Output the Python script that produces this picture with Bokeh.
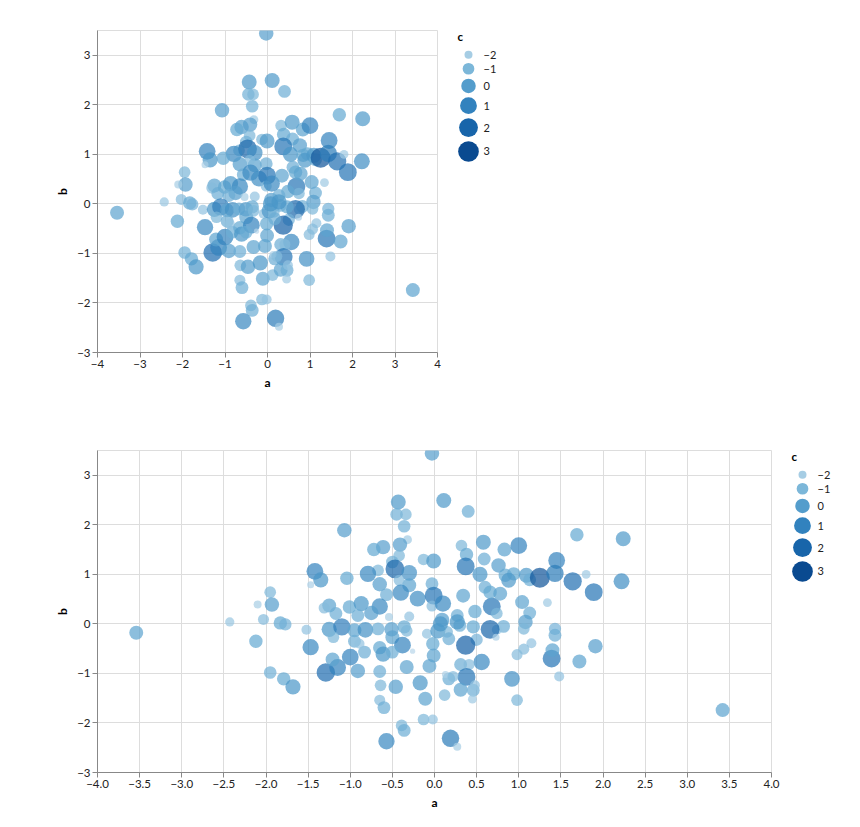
import numpy as np
from bokeh.plotting import figure
from bokeh.layouts import column, row
from bokeh.models import ColumnDataSource, Range1d, FixedTicker, LinearColorMapper
from bokeh.transform import transform
from bokeh.core.properties import value
from bokeh.embed import file_html
from bokeh.resources import INLINE

# ---------------- data ----------------
a = [-0.03, -0.43, -0.45, -0.34, -0.36, -1.07, -0.32, -0.41, -0.61, -0.72,
     -0.42, -0.13, -0.01, -0.50, -0.67, -0.47, -0.30, -0.79, -1.42, -1.35,
     -1.04, -1.47, -0.65, -0.30, -0.42, -0.03, -0.57, -0.40, -0.20, -0.01,
     -1.95, -1.93, -2.10, -1.25, -1.31, -1.17, -1.01, -0.87, -0.65, -0.75,
     -0.30, -0.03, -2.43, -2.03, -1.83, -1.77, -0.91, -0.54, -3.54, -1.52,
     -2.12, -1.47, -1.95, -1.79, -1.68, -1.29, -1.15, -1.21, -1.00, -0.91,
     -0.83, -1.25, -1.10, -1.20, -0.95, -0.82, -0.95, -0.89, -0.67, -0.51,
     -0.50, -0.36, -0.33, -0.65, -0.61, -0.38, -0.50, -0.26, -0.09, -0.02,
     -0.01, 0.04, -0.06, -0.33, -0.65, -0.64, -0.46, -0.17, -0.11, -0.65,
     -0.60, -0.13, -0.02, -0.39, -0.36, -0.57, 3.42, 0.19, 0.27, 0.12,
     0.98, 0.92, 1.48, 1.39, 1.40, 1.72, 1.91, 1.43, 1.43, 1.15,
     1.06, 0.98, 1.13, 1.08, 1.06, 1.04, 0.82, 0.74, 0.66, 0.73,
     0.68, 0.74, 0.48, 0.46, 0.50, 0.37, 0.56, 0.31, 0.41, 0.38,
     0.17, 0.13, 0.22, 0.31, 0.46, 0.45, 0.48, 0.15, 0.17, 0.09,
     0.27, 0.30, 0.27, 0.10, 0.34, 1.34, 0.11, 0.40, 1.69, 2.24,
     0.32, 0.58, 0.83, 1.00, 0.38, 0.59, 0.37, 0.76, 0.54, 0.84,
     0.94, 0.88, 1.09, 1.13, 1.25, 1.45, 1.43, 1.64, 1.80, 2.22,
     1.89, 0.60, 0.66, 0.78, 0.07]
b = [3.44, 2.46, 2.21, 2.21, 1.97, 1.89, 1.70, 1.60, 1.55, 1.50,
     1.38, 1.30, 1.27, 1.25, 1.08, 1.11, 1.03, 1.01, 1.06, 0.89,
     0.92, 0.79, 0.80, 0.78, 0.88, 0.81, 0.59, 0.63, 0.51, 0.57,
     0.64, 0.39, 0.39, 0.37, 0.32, 0.21, 0.34, 0.41, 0.35, 0.22,
     0.15, 0.36, 0.04, 0.09, 0.02, -0.01, 0.17, 0.14, -0.18, -0.12,
     -0.35, -0.47, -0.98, -1.11, -1.27, -0.98, -0.88, -0.72, -0.67, -0.95,
     -0.57, -0.11, -0.06, -0.27, -0.13, -0.12, -0.35, -0.40, -0.10, -0.11,
     -0.27, -0.06, -0.14, -0.48, -0.61, -0.43, -0.57, -0.55, -0.20, -0.40,
     -0.64, -0.14, -0.85, -0.87, -0.96, -1.24, -1.27, -1.19, -1.51, -1.54,
     -1.69, -1.93, -1.93, -2.05, -2.15, -2.37, -1.74, -2.31, -2.48, -1.44,
     -1.54, -1.11, -1.06, -0.70, -0.53, -0.76, -0.45, -0.10, -0.23, -0.39,
     -0.51, -0.62, 0.22, 0.04, -0.10, 0.44, -0.05, -0.12, -0.11, -0.27,
     0.35, 0.21, 0.25, -0.06, -0.32, -0.43, -0.77, -0.82, -0.82, -1.07,
     -1.11, -1.02, -1.06, -1.33, -1.34, -1.52, -1.24, -0.16, -0.30, 0.08,
     0.17, -0.03, 0.04, 0.41, 0.57, 0.43, 2.49, 2.27, 1.80, 1.72,
     1.58, 1.65, 1.50, 1.58, 1.40, 1.31, 1.16, 1.18, 1.00, 0.98,
     1.01, 0.88, 0.98, 0.89, 0.93, 1.28, 1.02, 0.86, 1.00, 0.86,
     0.64, 0.74, 0.64, 0.61, 0.00]
c = [0.0, 0.2, -0.7, -1.0, -0.7, 0.0, -1.8, 0.0, 0.0, -0.4,
     -1.0, -1.0, 0.2, -0.7, -1.0, 2.0, 0.5, 0.8, 1.0, 0.3,
     -0.4, -2.2, 0.0, -0.2, -1.2, -0.6, -0.6, 0.8, 0.6, 1.5,
     -1.0, 0.0, -2.0, -0.2, -1.2, -0.6, -0.4, 0.3, 0.8, 0.0,
     -1.5, -1.2, -1.7, -1.2, -0.4, -0.8, -0.6, -2.0, -0.2, -1.5,
     -0.4, 0.8, -0.7, -0.4, 0.3, 1.8, 1.0, -0.2, 1.0, 0.0,
     -0.6, 0.3, 1.2, -1.0, -0.2, 0.5, -0.6, -1.5, -0.6, 0.0,
     -0.2, -0.4, -1.0, -0.4, 0.3, 1.0, -0.6, -2.5, -1.5, -0.4,
     -0.2, 0.3, -0.2, -0.2, -0.6, -1.0, 0.0, 0.3, -0.2, -1.2,
     -0.6, -1.0, -1.5, -1.0, -0.6, 0.8, -0.2, 1.3, -2.0, -1.0,
     -1.0, 0.5, -1.5, 1.5, -0.2, -0.2, 0.0, -0.8, -0.6, -1.5,
     -1.2, -1.2, -0.6, 0.0, -1.0, -0.2, -0.6, -1.5, 2.0, -2.2,
     1.5, -1.0, -0.4, -0.4, -0.8, 2.2, 0.8, -0.6, -1.2, 1.5,
     -0.6, -2.2, -1.2, -0.2, -0.6, -1.8, -1.5, -1.0, -0.6, 0.0,
     -0.6, -0.6, 0.3, 0.8, -0.2, -1.8, 0.2, -0.6, -0.4, 0.2,
     -1.0, 0.2, -0.2, 1.0, -0.4, -0.6, 1.5, 0.0, 0.3, -0.4,
     -0.4, 0.2, 0.2, -0.6, 2.6, 1.0, 1.3, 1.7, -1.8, 0.6,
     1.5, -0.6, -0.4, -0.2, 0.3]

x_ticks_top = [-4, -3, -2, -1, 0, 1, 2, 3, 4]
x_labels_top = ["\u22124", "\u22123", "\u22122", "\u22121", "0", "1", "2", "3", "4"]
x_ticks_bottom = [-4.0, -3.5, -3.0, -2.5, -2.0, -1.5, -1.0, -0.5, 0.0,
                  0.5, 1.0, 1.5, 2.0, 2.5, 3.0, 3.5, 4.0]
x_labels_bottom = ["\u22124.0", "\u22123.5", "\u22123.0", "\u22122.5", "\u22122.0",
                   "\u22121.5", "\u22121.0", "\u22120.5", "0.0", "0.5", "1.0",
                   "1.5", "2.0", "2.5", "3.0", "3.5", "4.0"]
y_ticks = [-3, -2, -1, 0, 1, 2, 3]
y_labels = ["\u22123", "\u22122", "\u22121", "0", "1", "2", "3"]
legend_values = [-2, -1, 0, 1, 2, 3]
legend_labels = ["\u22122", "\u22121", "0", "1", "2", "3"]

# ---------------- styling ----------------
FONT = "Lato"
LABEL_COLOR = "#222222"
BLUES = ["#cfe1f2", "#bed8ec", "#a8cee5", "#8fc1de", "#74b2d7", "#5ba3cf",
         "#4592c6", "#3181bd", "#206fb2", "#125ca4", "#0a4a90"]


def interp_palette(stops, n=256):
    rgb = np.array([[int(s[i:i + 2], 16) for i in (1, 3, 5)] for s in stops], float)
    pos = np.linspace(0, 1, len(stops))
    t = np.linspace(0, 1, n)
    out = []
    for ti in t:
        r, g, bb = (np.interp(ti, pos, rgb[:, k]) for k in range(3))
        out.append("#%02x%02x%02x" % (int(round(r)), int(round(g)), int(round(bb))))
    return out


mapper = LinearColorMapper(palette=interp_palette(BLUES), low=-3.3, high=2.9)


def diam(vals):
    v = np.asarray(vals, float)
    return np.sqrt(np.clip(209.6 + 72.8 * v, 9.0, None))


src = ColumnDataSource(dict(a=a, b=b, c=c, d=diam(c)))

FRAME_H = 322
LEFT, RIGHT = 97, 10


def make_chart(fw, xt, xl, top, bottom):
    p = figure(frame_width=fw, frame_height=FRAME_H, title=None,
               x_range=Range1d(-4, 4), y_range=Range1d(-3, 3.5),
               output_backend="svg", toolbar_location=None,
               min_border_left=LEFT, min_border_right=RIGHT,
               min_border_top=top, min_border_bottom=bottom,
               background_fill_color="white", border_fill_color="white",
               outline_line_color="#dddddd")
    p.scatter("a", "b", source=src, size="d", marker="circle",
              fill_color=transform("c", mapper), fill_alpha=0.7, line_color=None)
    p.xaxis.ticker = FixedTicker(ticks=xt)
    p.xaxis.major_label_overrides = dict(zip(xt, xl))
    p.yaxis.ticker = FixedTicker(ticks=y_ticks)
    p.yaxis.major_label_overrides = dict(zip(y_ticks, y_labels))
    p.xaxis.axis_label = "a"
    p.yaxis.axis_label = "b"
    for ax in (p.xaxis, p.yaxis):
        ax.axis_line_color = "#888888"
        ax.major_tick_line_color = "#888888"
        ax.minor_tick_line_color = None
        ax.major_tick_out = 5
        ax.major_tick_in = 0
        ax.major_label_standoff = 2
        ax.axis_label_standoff = 4
        ax.major_label_text_font = FONT
        ax.major_label_text_font_size = "11.5px"
        ax.major_label_text_color = LABEL_COLOR
        ax.axis_label_text_font = FONT
        ax.axis_label_text_font_size = "12px"
        ax.axis_label_text_font_style = "bold"
        ax.axis_label_text_color = "#000000"
    p.grid.grid_line_color = "#dddddd"
    p.grid.grid_line_width = 1
    return p


def make_legend():
    # its frame is aligned with the chart frame by the row layout,
    # so local y = pixels below the chart frame's top edge
    W, H = 70, FRAME_H
    L = figure(frame_width=W, frame_height=H, title=None,
               x_range=Range1d(0, W), y_range=Range1d(H, 0),
               x_axis_type=None, y_axis_type=None,
               output_backend="svg", toolbar_location=None,
               min_border=0, min_border_left=0, min_border_right=0,
               min_border_top=0, min_border_bottom=0, outline_line_color=None,
               background_fill_color="white", border_fill_color="white")
    L.grid.visible = False
    ds = diam(legend_values)
    title_y = 5.5
    ys = [24.3]
    for i in range(1, len(ds)):
        ys.append(ys[-1] + (ds[i - 1] + ds[i]) / 2 + 4.1)
    lsrc = ColumnDataSource(dict(x=[21] * len(ds), y=ys, d=ds, c=legend_values,
                                 tx=[36] * len(ds), t=legend_labels))
    L.scatter("x", "y", source=lsrc, size="d", marker="circle",
              fill_color=transform("c", mapper), line_color=None)
    L.text("tx", "y", text="t", source=lsrc, text_font=value(FONT),
           text_font_size="11px", text_baseline="middle", text_align="left",
           text_color=LABEL_COLOR)
    tsrc = ColumnDataSource(dict(x=[10], y=[title_y], t=["c"]))
    L.text("x", "y", text="t", source=tsrc, text_font=value(FONT),
           text_font_size="11.5px", text_font_style="bold",
           text_baseline="middle", text_align="left", text_color="#000000")
    return L


TOP1, BOT1 = 30, 48
TOP2, BOT2 = 50, 40
p1 = make_chart(340, x_ticks_top, x_labels_top, TOP1, BOT1)
p2 = make_chart(674, x_ticks_bottom, x_labels_bottom, TOP2, BOT2)
l1 = make_legend()
l2 = make_legend()

layout = column(row(p1, l1), row(p2, l2))
open("out.html", "w").write(file_html(layout, INLINE))
